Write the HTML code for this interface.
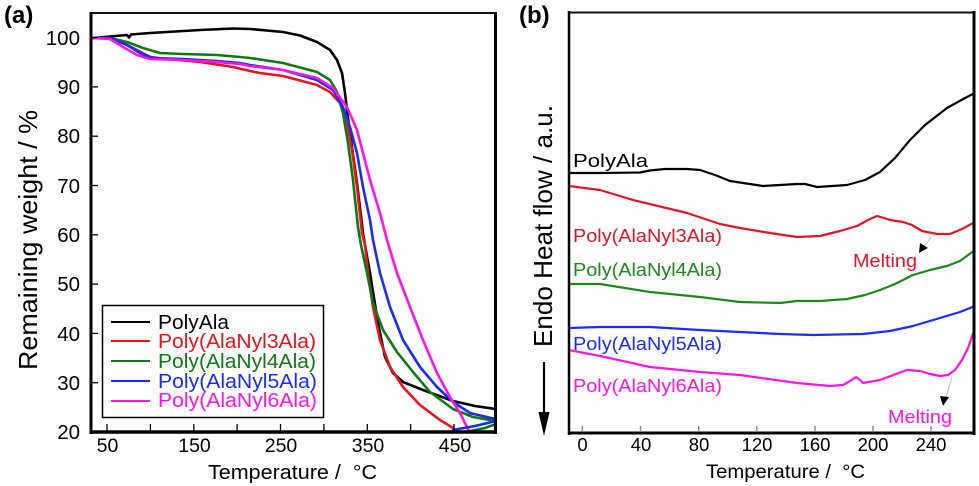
<!DOCTYPE html>
<html>
<head>
<meta charset="utf-8">
<style>
html,body{margin:0;padding:0;background:#fff;}
svg{display:block;}
text{font-family:"Liberation Sans",Arial,sans-serif;}
</style>
</head>
<body>
<svg width="979" height="486" viewBox="0 0 979 486" xmlns="http://www.w3.org/2000/svg">
<rect x="0" y="0" width="979" height="486" fill="#fff"/>

<!-- ================= Panel (a) ================= -->
<text x="4" y="23" font-size="24" font-weight="bold" fill="#000">(a)</text>

<defs>
<clipPath id="ca"><rect x="92" y="13" width="403" height="419"/></clipPath>
<clipPath id="cb"><rect x="570" y="13" width="403" height="419"/></clipPath>
</defs>

<g clip-path="url(#ca)" fill="none" stroke-width="2.6" stroke-linejoin="round" stroke-linecap="round">
<polyline stroke="#000" points="92,38 110,36.5 127,35 129,37.5 131,34.5 150,33 167,32 200,30 233,28.5 250,29 283,32 300,35.5 317,42 330,50 337,60 342,73 345,93 347,110 350,133 357,183 363,233 365,245 370,273 378,323 385,357 393,373 403,382 423,390 453,401 475,406 495,409"/>
<polyline stroke="#e8141c" points="92,38 110,38 123,43 137,50 150,57 167,59 200,62 233,67 250,71 260,73 283,76 317,85 330,92 340,103 347,123 352,150 357,187 362,233 365,245 368,273 373,307 380,340 390,367 403,387 420,405 440,420 453,428 460,433"/>
<polyline stroke="#0b7a12" points="92,38 110,38 127,42 143,48 160,53 183,54 217,55 240,57 250,58 283,63 317,72 330,80 337,92 343,113 348,143 353,180 358,227 361,245 367,273 373,303 383,330 397,352 413,372 430,392 453,409 473,417 495,421"/>
<polyline stroke="#1a2cf5" points="92,38 110,38 127,45 140,53 153,58 183,59 217,61 240,63 250,65 283,70 317,80 333,90 343,107 350,127 357,153 363,187 370,220 373,240 380,273 390,307 403,340 420,367 437,387 453,402 470,413 495,419"/>
<polyline stroke="#ff14e6" points="92,38 110,39 123,47 137,55 150,59 183,60 217,62 240,64 250,66 283,70 317,78 333,88 347,107 357,130 363,153 370,180 380,213 387,240 397,273 410,307 423,340 437,373 450,397 460,413 470,433"/>
<polyline stroke="#1a2cf5" points="453,430 475,426 496,421"/>
<polyline stroke="#0b7a12" points="470,431 485,428 496,424"/>
</g>

<!-- frame (a) -->
<line x1="91" y1="13" x2="496" y2="13" stroke="#111" stroke-width="2"/>
<line x1="495.5" y1="12" x2="495.5" y2="434" stroke="#000" stroke-width="3"/>
<line x1="91" y1="12" x2="91" y2="434" stroke="#000" stroke-width="3"/>
<line x1="89.5" y1="432" x2="497" y2="432" stroke="#000" stroke-width="3.5"/>

<!-- y ticks (a) -->
<g stroke="#000" stroke-width="1.3">
<line x1="92" y1="37.6" x2="98" y2="37.6"/>
<line x1="92" y1="86.9" x2="98" y2="86.9"/>
<line x1="92" y1="136.2" x2="98" y2="136.2"/>
<line x1="92" y1="185.5" x2="98" y2="185.5"/>
<line x1="92" y1="234.8" x2="98" y2="234.8"/>
<line x1="92" y1="284.1" x2="98" y2="284.1"/>
<line x1="92" y1="333.4" x2="98" y2="333.4"/>
<line x1="92" y1="382.7" x2="98" y2="382.7"/>
</g>
<!-- x ticks (a) -->
<g stroke="#000" stroke-width="1.3">
<line x1="107" y1="424" x2="107" y2="431"/>
<line x1="150.4" y1="424" x2="150.4" y2="431"/>
<line x1="193.8" y1="424" x2="193.8" y2="431"/>
<line x1="237.1" y1="424" x2="237.1" y2="431"/>
<line x1="280.5" y1="424" x2="280.5" y2="431"/>
<line x1="323.9" y1="424" x2="323.9" y2="431"/>
<line x1="367.3" y1="424" x2="367.3" y2="431"/>
<line x1="410.6" y1="424" x2="410.6" y2="431"/>
<line x1="454" y1="424" x2="454" y2="431"/>
</g>

<g font-size="20.5" fill="#000" text-anchor="end">
<text x="80" y="45">100</text>
<text x="80" y="94">90</text>
<text x="80" y="143">80</text>
<text x="80" y="193">70</text>
<text x="80" y="242">60</text>
<text x="80" y="291">50</text>
<text x="80" y="341">40</text>
<text x="80" y="390">30</text>
<text x="80" y="439">20</text>
</g>
<g font-size="19.5" fill="#000" text-anchor="middle">
<text x="107.5" y="452">50</text>
<text x="194.5" y="452">150</text>
<text x="281" y="452">250</text>
<text x="368" y="452">350</text>
<text x="455" y="452">450</text>
</g>
<text x="208" y="479" font-size="20" fill="#000" textLength="169" lengthAdjust="spacingAndGlyphs">Temperature /&#160; °C</text>
<text transform="translate(37,240) rotate(-90)" text-anchor="middle" font-size="26" fill="#000" textLength="260" lengthAdjust="spacingAndGlyphs">Remaining weight / %</text>

<!-- legend -->
<rect x="102.5" y="305.5" width="221" height="112" fill="#fff" stroke="#000" stroke-width="1.5"/>
<g stroke-width="2">
<line x1="111" y1="322" x2="150" y2="322" stroke="#000"/>
<line x1="111" y1="341" x2="150" y2="341" stroke="#e8141c"/>
<line x1="111" y1="361" x2="150" y2="361" stroke="#0b7a12"/>
<line x1="111" y1="381" x2="150" y2="381" stroke="#1a2cf5"/>
<line x1="111" y1="401" x2="150" y2="401" stroke="#ff14e6"/>
</g>
<g font-size="20.5">
<text x="158" y="329" fill="#000" textLength="71" lengthAdjust="spacingAndGlyphs">PolyAla</text>
<text x="158" y="348" fill="#e8141c" textLength="158" lengthAdjust="spacingAndGlyphs">Poly(AlaNyl3Ala)</text>
<text x="158" y="368" fill="#0b7a12" textLength="158" lengthAdjust="spacingAndGlyphs">Poly(AlaNyl4Ala)</text>
<text x="158" y="388" fill="#1a2cf5" textLength="159" lengthAdjust="spacingAndGlyphs">Poly(AlaNyl5Ala)</text>
<text x="158" y="407" fill="#ff14e6" textLength="159" lengthAdjust="spacingAndGlyphs">Poly(AlaNyl6Ala)</text>
</g>

<!-- ================= Panel (b) ================= -->
<text x="519" y="23" font-size="24" font-weight="bold" fill="#000">(b)</text>

<g clip-path="url(#cb)" fill="none" stroke-width="2.2" stroke-linejoin="round" stroke-linecap="round">
<polyline stroke="#000" points="569,173 600,173 640,172.5 650,170.5 665,169 687,169 700,170 715,175 730,181 763,186 797,184 805,184 817,187 847,185 865,180 880,172 895,158 910,140 925,125 947,108 965,98 975,93"/>
<polyline stroke="#e0142a" points="569,186 600,190 633,200 687,213 720,224 740,228 770,233 797,237 820,236 840,231 857,226 870,219 877,216 884,218 890,220 903,222 912,225 922,231 937,234 950,234 962,229 975,222"/>
<polyline stroke="#1a8a1a" points="569,284 600,284 650,292 700,297 740,302 780,303 797,301 820,301 847,299 865,295 880,290 895,284 913,275 930,270 947,266 960,261 975,250"/>
<polyline stroke="#1a2cf5" points="569,328 600,327 650,327 700,330 740,332 780,334 813,335 863,334 890,331 913,326 940,318 960,312 975,306"/>
<polyline stroke="#ff14e6" points="569,350 600,356 650,367 700,372 740,375 797,383 830,386 843,385 850,381 856,377 860,380 863,383 880,380 907,370 920,371 930,374 940,376 948,375 955,370 962,360 968,348 975,328"/>
</g>

<!-- frame (b) -->
<line x1="569" y1="12.5" x2="975" y2="12.5" stroke="#111" stroke-width="2"/>
<line x1="974" y1="11" x2="974" y2="435" stroke="#000" stroke-width="3"/>
<line x1="569" y1="11" x2="569" y2="435" stroke="#000" stroke-width="2.5"/>
<line x1="568" y1="433" x2="975.5" y2="433" stroke="#000" stroke-width="3"/>

<g stroke="#7b8cb0" stroke-width="1.4">
<line x1="582.3" y1="426" x2="582.3" y2="431"/>
<line x1="640.5" y1="426" x2="640.5" y2="431"/>
<line x1="698.7" y1="426" x2="698.7" y2="431"/>
<line x1="756.8" y1="426" x2="756.8" y2="431"/>
<line x1="815" y1="426" x2="815" y2="431"/>
<line x1="873" y1="426" x2="873" y2="431"/>
<line x1="931" y1="426" x2="931" y2="431"/>
</g>
<g font-size="18.5" fill="#000" text-anchor="middle">
<text x="582.5" y="451">0</text>
<text x="641" y="451">40</text>
<text x="699" y="451">80</text>
<text x="757" y="451">120</text>
<text x="815" y="451">160</text>
<text x="873" y="451">200</text>
<text x="931" y="451">240</text>
</g>
<text x="706" y="478" font-size="19.5" fill="#000" textLength="159" lengthAdjust="spacingAndGlyphs">Temperature /&#160; °C</text>
<text transform="translate(552,226) rotate(-90)" text-anchor="middle" font-size="26" fill="#000" textLength="242" lengthAdjust="spacingAndGlyphs">Endo Heat flow / a.u.</text>
<line x1="544" y1="362" x2="544" y2="416" stroke="#000" stroke-width="2.2"/>
<polygon points="538.5,412 549.5,412 544,436" fill="#000"/>

<!-- curve labels -->
<g font-size="18">
<text x="573" y="167" fill="#000" textLength="75" lengthAdjust="spacingAndGlyphs">PolyAla</text>
<text x="573" y="242" fill="#e0142a" textLength="149" lengthAdjust="spacingAndGlyphs">Poly(AlaNyl3Ala)</text>
<text x="573" y="276" fill="#1a8a1a" textLength="149" lengthAdjust="spacingAndGlyphs">Poly(AlaNyl4Ala)</text>
<text x="573" y="350" fill="#1a2cf5" textLength="149" lengthAdjust="spacingAndGlyphs">Poly(AlaNyl5Ala)</text>
<text x="573" y="392" fill="#ff14e6" textLength="149" lengthAdjust="spacingAndGlyphs">Poly(AlaNyl6Ala)</text>
<text x="853" y="267" fill="#e0142a" textLength="64" lengthAdjust="spacingAndGlyphs">Melting</text>
<text x="888" y="423" fill="#ff14e6" textLength="64" lengthAdjust="spacingAndGlyphs">Melting</text>
</g>

<!-- melting arrows -->
<line x1="931" y1="237" x2="924" y2="247" stroke="#b8c0cc" stroke-width="1"/>
<polygon points="919,253 920,243 928,248" fill="#000"/>
<line x1="952" y1="377" x2="946" y2="397" stroke="#b8c0cc" stroke-width="1"/>
<polygon points="943,406 940,396 949,397" fill="#000"/>
</svg>
</body>
</html>
